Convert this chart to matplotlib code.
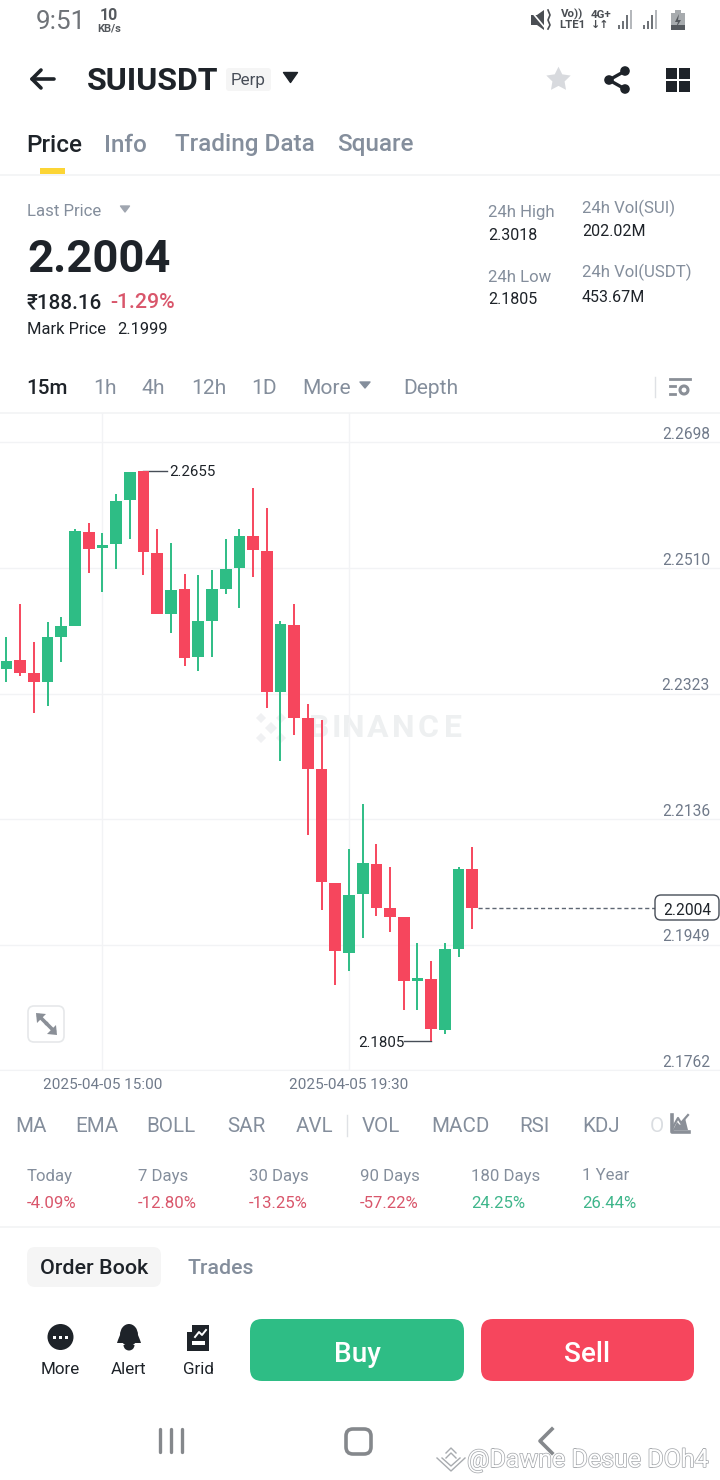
import matplotlib
matplotlib.use('Agg')
import matplotlib.pyplot as plt
import matplotlib.patheffects as pe
from matplotlib.patches import FancyBboxPatch, Rectangle, Circle, Polygon, Wedge, Ellipse
from matplotlib.path import Path

plt.rcParams['font.family'] = ['Roboto', 'DejaVu Sans']

# candles
opens = [2.2360, 2.2373, 2.2353, 2.2340, 2.2408, 2.2424, 2.2564, 2.2540, 2.2546, 2.2612, 2.2654, 2.2533,
         2.2441, 2.2479, 2.2377, 2.2431, 2.2479, 2.2510, 2.2558, 2.2535, 2.2326, 2.2425, 2.2287, 2.2211,
         2.2040, 2.1937, 2.2025, 2.2069, 2.2003, 2.1990, 2.1895, 2.1898, 2.1822, 2.1943, 2.2062]
closes = [2.2372, 2.2354, 2.2341, 2.2408, 2.2423, 2.2565, 2.2539, 2.2544, 2.2610, 2.2653, 2.2534, 2.2441,
          2.2478, 2.2376, 2.2431, 2.2479, 2.2508, 2.2558, 2.2537, 2.2326, 2.2426, 2.2287, 2.2211, 2.2042,
          2.1939, 2.2023, 2.2070, 2.2004, 2.1990, 2.1894, 2.1897, 2.1823, 2.1942, 2.2062, 2.2004]
highs = [2.2408, 2.2457, 2.2400, 2.2429, 2.2437, 2.2569, 2.2577, 2.2563, 2.2620, 2.2653, 2.2655, 2.2568,
         2.2548, 2.2501, 2.2499, 2.2507, 2.2553, 2.2569, 2.2629, 2.2600, 2.2431, 2.2456, 2.2307, 2.2284,
         2.2040, 2.2091, 2.2159, 2.2099, 2.2064, 2.1990, 2.1951, 2.1924, 2.1952, 2.2065, 2.2095]
lows = [2.2341, 2.2349, 2.2294, 2.2305, 2.2370, 2.2424, 2.2502, 2.2474, 2.2508, 2.2554, 2.2500, 2.2441,
        2.2414, 2.2364, 2.2357, 2.2378, 2.2471, 2.2451, 2.2497, 2.2301, 2.2223, 2.2262, 2.2112, 2.2000,
        2.1889, 2.1909, 2.1958, 2.1992, 2.1967, 2.1852, 2.1851, 2.1805, 2.1815, 2.1931, 2.1972]
price_ticks = [2.2698, 2.2510, 2.2323, 2.2136, 2.1949, 2.1762]
time_idx = [7, 25]
time_labels = ['2025-04-05 15:00', '2025-04-05 19:30']

tabs = ['Price', 'Info', 'Trading Data', 'Square']
tab_x = [26, 104, 175, 337]
frames = ['1h', '4h', '12h', '1D', 'More', 'Depth']
frame_x = [93, 141, 191, 251, 302, 403]
indicators = ['MA', 'EMA', 'BOLL', 'SAR', 'AVL', 'VOL', 'MACD', 'RSI', 'KDJ']
indicator_x = [15, 75, 146, 227, 296, 362, 431, 519, 582]
perf_labels = ['Today', '7 Days', '30 Days', '90 Days', '180 Days', '1 Year']
perf_values = ['-4.09%', '-12.80%', '-13.25%', '-57.22%', '24.25%', '26.44%']
perf_x = [27, 138, 249, 360, 471, 582]
watermark_letters = ['B', 'I', 'N', 'A', 'N', 'C', 'E']
watermark_x = [309, 332, 342, 367, 392, 418, 444]

GREEN = '#2EBD85'
RED = '#F6465D'
DARK = '#1E2329'
GREY = '#848E9C'
ICON = '#8A8F97'
LINE = '#F2F3F5'
AXIS_PX = 15.5

fig = plt.figure(figsize=(7.2, 14.8), dpi=100, facecolor='white')

# whole page in pixels
ui = fig.add_axes([0, 0, 1, 1], zorder=0)
ui.set_xlim(0, 720)
ui.set_ylim(1480, 0)
ui.axis('off')


def label(x, y, s, px=16, color=DARK, weight='normal', ha='left', **kw):
    return ui.text(x, y + 2, s, fontsize=px * 0.72, color=color, fontweight=weight, ha=ha, va='center', **kw)


def rbox(x, y, w, h, r, fc, ec='none', lw=1, zorder=2):
    ui.add_patch(FancyBboxPatch((x, y), w, h, boxstyle=f'round,pad=0,rounding_size={r}', fc=fc, ec=ec, lw=lw, zorder=zorder))


def tri(cx, cy, w, h, color):
    ui.add_patch(Polygon([(cx - w / 2, cy - h / 2), (cx + w / 2, cy - h / 2), (cx, cy + h / 2)], fc=color, ec=color, lw=1, joinstyle='round'))


# status bar
label(36, 20, '9:51', 26, '#6f7378')
label(109, 13, '10', 16, '#55595e', 'bold', ha='center')
label(109, 26, 'KB/s', 11, '#55595e', 'bold', ha='center')
ui.add_patch(Polygon([(531, 15), (537, 15), (544, 10), (544, 30), (537, 25), (531, 25)], fc='#4a4e53', ec='none'))
ui.plot([531, 546], [11, 29], color='white', lw=1.2)
ui.plot([548, 550, 548, 550, 548], [10, 15, 20, 25, 29], color='#4a4e53', lw=1.2)
label(572, 12, 'Vo))', 11.5, '#4a4e53', ha='center', weight='bold')
label(572, 23, 'LTE1', 11.5, '#4a4e53', ha='center', weight='bold')
label(601, 12.5, '4G+', 11.5, '#4a4e53', ha='center', weight='bold')
label(600, 23, '↓↑', 11, '#4a4e53', ha='center', weight='bold')
for x0 in (618, 643):
    for k, h in enumerate((4, 8, 14, 19)):
        ui.add_patch(Rectangle((x0 + k * 4, 29 - h), 2, h, fc='#6f7378' if k < 3 else '#b5b8bc', ec='none'))
ui.add_patch(Rectangle((671, 13), 14, 17, fc='#a7abae', ec='none'))
ui.add_patch(Rectangle((675, 10), 6, 3, fc='#a7abae', ec='none'))
ui.add_patch(Rectangle((671, 25), 14, 5, fc='#55595e', ec='none'))
ui.add_patch(Polygon([(679, 14), (675, 22), (678, 22), (676, 28), (681, 20), (678, 20)], fc='#55595e', ec='none'))

# header
ui.plot([32, 54], [79, 79], color=DARK, lw=2.6, solid_capstyle='round')
ui.plot([41, 32, 41], [70, 79, 88], color=DARK, lw=2.6, solid_capstyle='round', solid_joinstyle='round')
label(87, 79, 'SUIUSDT', 32, DARK, 'bold')
rbox(226, 68, 45, 23, 3, '#F5F5F5')
label(248.5, 78, 'Perp', 17, '#474D57', ha='center', zorder=3)
tri(290.5, 77.5, 14, 10, DARK)
ui.scatter([558], [79], s=340, marker=Path.unit_regular_star(5, innerCircle=0.5), color='#D8DADE', linewidths=0)
for cx, cy in [(625, 71), (609, 80), (625, 89)]:
    ui.add_patch(Circle((cx, cy), 4.8, fc=DARK, ec='none'))
ui.plot([625, 609, 625], [71, 80, 89], color=DARK, lw=2.4)
for x0, y0 in [(666, 68), (679, 68), (666, 81), (679, 81)]:
    ui.add_patch(Rectangle((x0, y0), 10.5, 10.5, fc=DARK, ec='none'))

# tabs
for i, (s, x) in enumerate(zip(tabs, tab_x)):
    label(x, 143, s, 24.3, DARK if i == 0 else GREY, 'medium')
ui.add_patch(Rectangle((40, 168), 25, 6, fc='#FCD535', ec='none'))
ui.plot([0, 720], [175, 175], color=LINE, lw=1.2)

# price block
label(27, 210, 'Last Price', 16.7, GREY)
tri(125, 209, 9, 6, '#A0A6B0')
label(27, 258, '2.2004', 45.5, DARK, 'bold')
label(27, 301, '₹188.16', 20.7, DARK, 'medium')
label(110, 301, '-1.29%', 21.3, '#D9566B', 'medium')
label(27, 328, 'Mark Price', 16.5, DARK)
label(117, 328, '2.1999', 16.5, DARK)
label(488, 210, '24h High', 16.7, GREY)
label(488, 234, '2.3018', 16, DARK)
label(488, 275, '24h Low', 16.7, GREY)
label(488, 298, '2.1805', 16, DARK)
label(582, 206, '24h Vol(SUI)', 16.7, GREY)
label(582, 230, '202.02M', 16, DARK)
label(582, 270, '24h Vol(USDT)', 16.7, GREY)
label(582, 295, '453.67M', 16, DARK)

# time frames
label(26, 387, '15m', 20.7, DARK, 'medium')
for s, x in zip(frames, frame_x):
    label(x, 387, s, 21, GREY)
tri(365, 385, 10, 6, GREY)
ui.plot([655, 655], [377, 397], color='#DFE1E5', lw=1)
ui.plot([670, 690], [379, 379], color=ICON, lw=2)
ui.plot([670, 675], [386, 386], color=ICON, lw=2)
ui.plot([670, 675], [394, 394], color=ICON, lw=2)
ui.add_patch(Circle((684, 390), 4, fc='white', ec=ICON, lw=2.2))
ui.plot([0, 720], [413, 413], color=LINE, lw=1.2)

# watermark behind the candles
for s, x in zip(watermark_letters, watermark_x):
    ui.text(x, 728, s, fontsize=23, fontweight='bold', color='#EEF0F1', va='center', zorder=1)
for cx, cy, s in [(271, 728, 6), (281, 718, 5), (281, 738, 5), (261, 718, 5), (261, 738, 5)]:
    ui.add_patch(Polygon([(cx - s, cy), (cx, cy - s), (cx + s, cy), (cx, cy + s)], fc='#F0F1F3', ec='none', zorder=1))

# chart, index 0 sits at pixel 6.5 and one candle is 13.7 px
ch = fig.add_axes([0, (1480 - 1070) / 1480, 1, (1070 - 413) / 1480], zorder=1, facecolor='none')
ch.set_xlim(-6.5 / 13.7, (720 - 6.5) / 13.7)
ch.set_ylim(2.1762, 2.2698 + 29 * 0.00014889)
for s in ch.spines.values():
    s.set_visible(False)
ch.spines['bottom'].set_visible(True)
ch.spines['bottom'].set_color(LINE)
ch.set_yticks(price_ticks)
ch.set_yticklabels([])
ch.set_xticks(time_idx)
ch.set_xticklabels(time_labels, fontsize=15.3 * 0.72, color='#707A8A')
ch.tick_params(axis='both', length=0, pad=6)
ch.grid(True, color=LINE, lw=1)
ch.set_axisbelow(True)

for i, (o, c, h, l) in enumerate(zip(opens, closes, highs, lows)):
    col = GREEN if c >= o else RED
    ch.vlines(i, l, h, color=col, lw=1.4, zorder=3)
    ch.bar(i, max(abs(c - o), 0.0004), bottom=min(o, c), width=0.86, color=col, lw=0, zorder=4)

for p in price_ticks:
    ch.annotate(f'{p:.4f}', xy=(1, p), xycoords=('axes fraction', 'data'), xytext=(-7.2, 0.3),
                textcoords='offset points', ha='right', va='bottom', fontsize=AXIS_PX * 0.72, color='#707A8A')

# high, low and last price markers
hi = highs.index(max(highs))
lo = lows.index(min(lows))
ch.plot([hi, hi + 1.75], [highs[hi], highs[hi]], color='#474D57', lw=1, zorder=2)
ch.annotate(f'{highs[hi]:.4f}', xy=(hi + 1.8, highs[hi]), xytext=(1, -1), textcoords='offset points',
            va='center', fontsize=15 * 0.72, color=DARK)
ch.plot([lo - 2, lo], [lows[lo], lows[lo]], color='#474D57', lw=1, zorder=2)
ch.annotate(f'{lows[lo]:.4f}', xy=(lo - 2.05, lows[lo]), xytext=(1, -1), textcoords='offset points',
            ha='right', va='center', fontsize=15 * 0.72, color=DARK)
ch.plot([len(closes) - 0.55, (655 - 6.5) / 13.7], [closes[-1], closes[-1]], color='#5E6673', lw=1, ls=(0, (3, 2)), zorder=2)

# last price tag, over the chart
top = fig.add_axes([0, 0, 1, 1], zorder=2, facecolor='none')
top.set_xlim(0, 720)
top.set_ylim(1480, 0)
top.axis('off')
top.add_patch(FancyBboxPatch((655, 895), 64, 25, boxstyle='round,pad=0,rounding_size=6', fc='white', ec='#474D57', lw=1))
top.text(687, 910.5, f'{closes[-1]:.4f}', fontsize=AXIS_PX * 0.72, color=DARK, ha='center', va='center')

# expand button
top.add_patch(FancyBboxPatch((28, 1006), 36, 36, boxstyle='round,pad=0,rounding_size=6', fc='white', ec='#E6E8EA', lw=1.2))
top.plot([39, 46], [1016, 1023], color=ICON, lw=2.6)
top.plot([47, 54], [1024, 1031], color=ICON, lw=2.6)
top.add_patch(Polygon([(36, 1013), (46, 1014), (37, 1023)], fc=ICON, ec='none'))
top.add_patch(Polygon([(57, 1035), (47, 1034), (56, 1025)], fc=ICON, ec='none'))

# indicators
for s, x in zip(indicators, indicator_x):
    label(x, 1124, s, 20.5, GREY)
ui.plot([347, 347], [1115, 1136], color='#DFE1E5', lw=1)
label(650, 1124, 'O', 20.5, '#DADDE1')
ui.add_patch(Polygon([(673, 1130), (677, 1122), (680, 1125), (685, 1118), (688, 1130)], fc=ICON, ec='none'))
ui.plot([672, 672, 689], [1115, 1132, 1132], color=ICON, lw=2.6)
ui.plot([673, 678, 681, 688], [1127, 1118, 1123, 1115], color=ICON, lw=1.6)

# performance
for s, v, x in zip(perf_labels, perf_values, perf_x):
    label(x, 1174, s, 16.7, GREY)
    label(x, 1201, v, 16.8, '#D9566B' if v.startswith('-') else '#3FB68B')
ui.plot([0, 720], [1227, 1227], color=LINE, lw=1.2)

# order book
rbox(27, 1247, 134, 40, 8, '#F5F5F5')
label(40, 1266, 'Order Book', 21.5, DARK, 'medium', zorder=3)
label(188, 1266, 'Trades', 21.3, GREY, 'medium')

# bottom actions
ui.add_patch(Circle((60.5, 1337), 13, fc=DARK, ec='none'))
for dx in (-6, 0, 6):
    ui.add_patch(Rectangle((59 + dx, 1335.5), 3.2, 3.2, fc='white', ec='none', zorder=3))
ui.add_patch(Ellipse((129, 1335), 18, 22, fc=DARK, ec='none'))
ui.add_patch(Polygon([(120, 1335), (138, 1335), (140, 1340), (141, 1343), (117, 1343), (118, 1340)], fc=DARK, ec='none'))
ui.add_patch(Wedge((129, 1345), 5.5, 0, 180, fc=DARK, ec='none'))
ui.add_patch(Polygon([(187, 1332), (192, 1332), (192, 1325), (209, 1325), (209, 1351), (187, 1351)], fc=DARK, ec='none'))
ui.plot([195, 199, 202, 206], [1337, 1332, 1335, 1330], color='white', lw=1.4, zorder=3)
ui.add_patch(Rectangle((192, 1341), 13, 4, fc='white', ec='none', zorder=3))
label(60.5, 1367, 'More', 17, DARK, ha='center')
label(129, 1367, 'Alert', 17, DARK, ha='center')
label(198, 1367, 'Grid', 17, DARK, ha='center')
rbox(250, 1319, 214, 62, 12, GREEN)
rbox(481, 1319, 213, 62, 12, RED)
ui.text(357, 1355, 'Buy', fontsize=28 * 0.72, fontweight='medium', color='white', ha='center', va='center', zorder=3)
ui.text(587.5, 1355, 'Sell', fontsize=28 * 0.72, fontweight='medium', color='white', ha='center', va='center', zorder=3)

# navigation bar
for x in (160, 171, 182):
    ui.plot([x, x], [1429, 1452], color='#85888C', lw=2.4, solid_capstyle='round')
rbox(346, 1429, 25, 25, 7, 'none', ec='#85888C', lw=2.6)
ui.plot([552, 540, 552], [1429, 1441, 1453], color='#85888C', lw=2.6)

# repost credit bottom right
ui.text(467, 1460, '@Dawne Desue DOh4', fontsize=25 * 0.72, color='white', va='center', zorder=5,
        path_effects=[pe.withStroke(linewidth=1.1, foreground='#A8ABAF')])
ui.plot([437, 451, 465], [1458, 1471, 1458], color='#A8ABAF', lw=1, zorder=5)
ui.plot([442, 451, 460], [1458, 1466, 1458], color='#A8ABAF', lw=1, zorder=5)
ui.plot([446, 451, 456], [1453, 1448, 1453], color='#A8ABAF', lw=1, zorder=5)
ui.plot([446, 451, 456], [1458, 1453, 1458], color='#A8ABAF', lw=1, zorder=5)

fig.savefig('out.png', dpi=100, facecolor='white')
